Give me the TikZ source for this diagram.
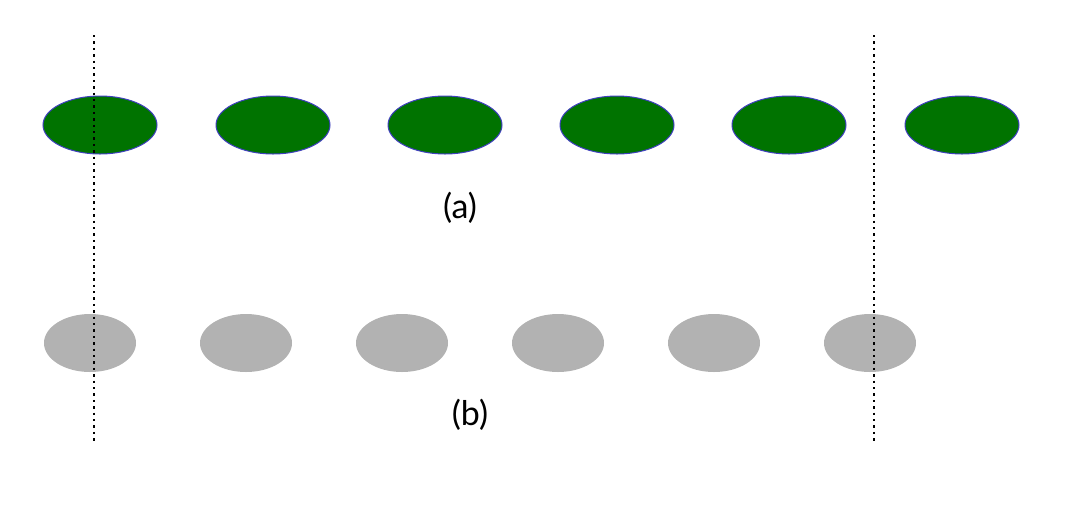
\documentclass[tikz,border=0pt]{standalone}
\usepackage{fontspec}
\setmainfont{Lato}
\usetikzlibrary{shapes.geometric}
\begin{document}
\begin{tikzpicture}[x=0.5pt,y=-0.5pt,
  gell/.style={ellipse,draw=blue!50!gray,line width=0.5pt,fill=green!45!black,minimum width=57pt,minimum height=29pt,inner sep=0pt},
  rell/.style={ellipse,fill=black!30,minimum width=46pt,minimum height=29pt,inner sep=0pt},
  vline/.style={dotted,line width=1.2pt},
  lab/.style={font=\fontsize{17}{20}\selectfont}]
\useasboundingbox (0,0) rectangle (1074,510);
\foreach \x [count=\i] in {100,273,445,617,789,962} \node[gell] (g\i) at (\x,125) {};
\foreach \x [count=\i] in {90,246,402,558,714,870} \node[rell] (r\i) at (\x,343) {};
\coordinate (t1) at (94,35); \coordinate (b1) at (94,442);
\coordinate (t2) at (874,35); \coordinate (b2) at (874,442);
\draw[vline] (t1) -- (b1);
\draw[vline] (t2) -- (b2);
\node[lab] (la) at (460,208) {(a)};
\node[lab] (lb) at (470,415) {(b)};
\end{tikzpicture}
\end{document}
